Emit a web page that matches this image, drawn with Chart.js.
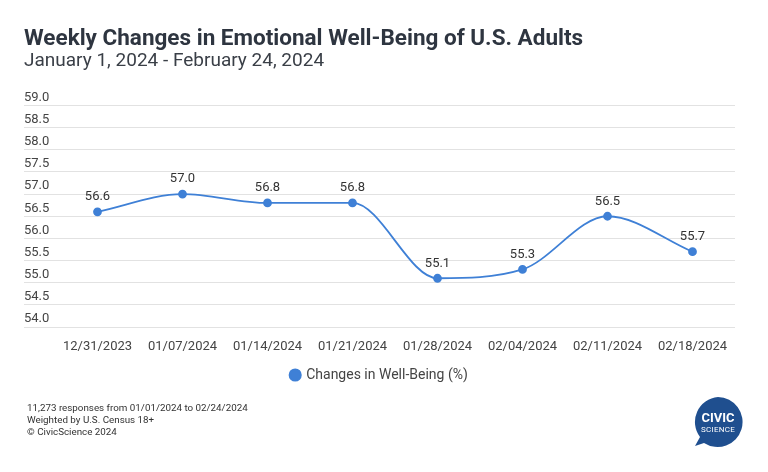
<!DOCTYPE html>
<html>
<head>
<meta charset="utf-8">
<script src="https://cdn.jsdelivr.net/npm/chart.js@4"></script>
<style>
  body { margin: 0; background: #fff; font-family: Roboto, sans-serif; }
  #wrap { position: relative; width: 768px; height: 472px; }
  #notes {
    position: absolute; left: 27px; top: 402px;
    font-size: 9.8px; line-height: 12px; color: #333;
  }
  #logo { position: absolute; left: 690px; top: 396px; }
</style>
</head>
<body>
<div id="wrap">
  <canvas id="wellChart" width="768" height="472"></canvas>
  <div id="notes">
    11,273 responses from 01/01/2024 to 02/24/2024<br>
    Weighted by U.S. Census 18+<br>
    © CivicScience 2024
  </div>
  <svg id="logo" width="56" height="52" viewBox="0 0 56 52">
    <path d="M28 1 A25 25 0 1 1 14 47 L5 50 L10 41 A25 25 0 0 1 28 1 Z" fill="#1f4f8f"/>
    <text x="28" y="26" text-anchor="middle" fill="#fff" font-family="Roboto, sans-serif" font-weight="bold" font-size="13">CIVIC</text>
    <text x="28" y="36" text-anchor="middle" fill="#fff" font-family="Roboto, sans-serif" font-size="8" letter-spacing="0.3">SCIENCE</text>
  </svg>
</div>
<script>
// chart data
const weekLabels = ["12/31/2023", "01/07/2024", "01/14/2024", "01/21/2024",
  "01/28/2024", "02/04/2024", "02/11/2024", "02/18/2024"];
const wellBeing = [56.6, 57.0, 56.8, 56.8, 55.1, 55.3, 56.5, 55.7];
const seriesName = "Changes in Well-Being (%)";

const lineBlue = "#3f80d6";

// draws the value above every point
const valueLabels = {
  id: "valueLabels",
  afterDatasetsDraw(chart) {
    const ctx = chart.ctx;
    const meta = chart.getDatasetMeta(0);
    ctx.save();
    ctx.font = "13px Roboto";
    ctx.fillStyle = "#333";
    ctx.textAlign = "center";
    ctx.textBaseline = "middle";
    meta.data.forEach((pt, i) => {
      ctx.fillText(wellBeing[i].toFixed(1), pt.x, pt.y - 15);
    });
    ctx.restore();
  },
};

const ctx = document.getElementById("wellChart").getContext("2d");
new Chart(ctx, {
  type: "line",
  data: {
    labels: weekLabels,
    datasets: [{
      label: seriesName,
      data: wellBeing,
      borderColor: lineBlue,
      backgroundColor: lineBlue,
      pointBackgroundColor: lineBlue,
      pointBorderColor: lineBlue,
      pointRadius: 3.5,
      borderWidth: 1.8,
      cubicInterpolationMode: "monotone",
    }],
  },
  options: {
    responsive: false,
    animation: false,
    layout: { padding: { left: 24, right: 33, top: 0, bottom: 80 } },
    plugins: {
      tooltip: { enabled: false },
      title: {
        display: true,
        text: "Weekly Changes in Emotional Well-Being of U.S. Adults",
        align: "start",
        color: "#2e3540",
        font: { family: "Roboto", size: 22.5, weight: "bold", lineHeight: 1 },
        padding: { top: 28, bottom: 1 },
      },
      subtitle: {
        display: true,
        text: "January 1, 2024 - February 24, 2024",
        align: "start",
        color: "#3a3f47",
        font: { family: "Roboto", size: 19, lineHeight: 1 },
        padding: { top: 0, bottom: 35 },
      },
      legend: {
        position: "bottom",
        labels: {
          usePointStyle: true,
          pointStyle: "circle",
          boxWidth: 8,
          boxHeight: 8,
          padding: 10,
          color: "#444",
          font: { family: "Roboto", size: 14 },
        },
      },
    },
    scales: {
      x: {
        offset: true,
        grid: { display: false },
        border: { display: false },
        ticks: {
          color: "#444",
          padding: 4,
          maxRotation: 0,
          font: { family: "Roboto", size: 13 },
        },
        afterFit: (scale) => { scale.height = 31; },
      },
      y: {
        min: 54,
        max: 59,
        grid: { color: "#e2e2e2", tickLength: 31, tickColor: "#e2e2e2" },
        border: { display: false },
        ticks: {
          stepSize: 0.5,
          crossAlign: "far",
          labelOffset: -8,
          color: "#444",
          font: { family: "Roboto", size: 13 },
          callback: (v) => v.toFixed(1),
        },
        afterFit: (scale) => { scale.width = 31; },
      },
    },
  },
  plugins: [valueLabels],
});
</script>
</body>
</html>
